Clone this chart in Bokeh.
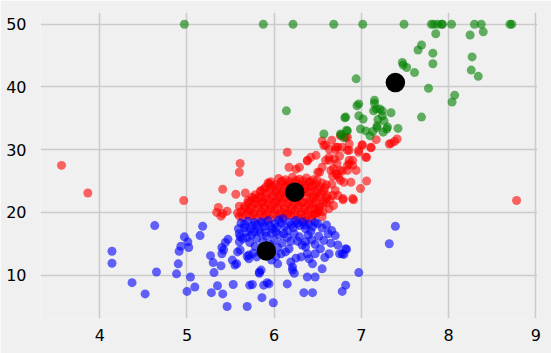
from bokeh.plotting import figure
from bokeh.models import ColumnDataSource, FixedTicker, Range1d
from bokeh.embed import file_html
from bokeh.resources import INLINE

# Cluster 1 (red): (RM, MEDV)
red_points = [
    (3.561, 27.5), (3.863, 23.1), (8.78, 21.9), (4.963, 21.9), (5.61, 27.8), (5.60, 26.4),
    (5.41, 23.7), (5.56, 22.9), (5.67, 23.1), (5.73, 21.8), (5.36, 20.8), (5.34, 20.0),
    (5.41, 19.8), (5.46, 20.2), (5.39, 19.4), (5.60, 19.4), (5.60, 21.0), (5.85, 23.5),
    (5.90, 24.0), (5.93, 24.7), (5.96, 24.9), (5.77, 22.2), (5.86, 22.4),
    (6.15, 29.6), (6.17, 27.2), (6.29, 27.2), (6.38, 28.2), (6.48, 29.1), (6.52, 26.4),
    (6.57, 30.7), (6.63, 28.3), (6.71, 30.4), (6.84, 29.9), (6.90, 28.3), (6.84, 26.7),
    (6.74, 25.6), (6.80, 24.8), (6.79, 22.0), (6.91, 22.0), (6.68, 21.1), (6.67, 22.7),
    (6.63, 20.6), (6.50, 20.0), (6.44, 19.5), (6.36, 18.7), (6.55, 19.3), (6.82, 32.0),
    (7.17, 31.6), (7.34, 31.0), (7.41, 31.7), (7.38, 31.3), (7.01, 30.8), (7.11, 30.3),
    (6.97, 29.6), (7.06, 28.8), (6.86, 29.9), (6.73, 30.4), (6.69, 28.5), (6.86, 28.3),
    (6.86, 27.7), (6.94, 26.7), (6.78, 26.6), (7.06, 25.0), (6.99, 23.8), (6.88, 24.8),
    (6.76, 25.1), (6.90, 22.2), (6.79, 22.2), (6.73, 22.7), (6.52, 20.3), (6.47, 19.8),
    (6.66, 31.5), (6.70, 30.0), (6.75, 29.0), (6.68, 27.0), (6.72, 26.0), (6.66, 24.5),
    (6.70, 23.5), (6.67, 25.8), (6.72, 27.8),
    (6.55, 31.4), (6.59, 30.7), (6.63, 30.1), (6.76, 32.2), (6.84, 32.0), (6.86, 30.9),
    (6.78, 30.4), (6.97, 29.9), (7.01, 30.7), (7.11, 30.4), (7.05, 28.8), (6.90, 27.5),
    (6.63, 28.8), (6.59, 28.3), (6.42, 28.8), (6.38, 28.3), (6.50, 26.4), (6.55, 27.2),
    (6.65, 26.7), (6.71, 26.2), (6.76, 26.7), (6.84, 27.5), (7.32, 30.9), (6.25, 26.9),
    # dense core
    (5.64, 19.2), (5.72, 19.4), (5.80, 19.1), (5.88, 19.3), (5.95, 19.0), (6.03, 19.4),
    (6.11, 19.2), (6.19, 19.5), (6.27, 19.1), (6.35, 19.3), (6.43, 19.0),
    (5.62, 20.1), (5.70, 20.3), (5.77, 19.9), (5.85, 20.2), (5.93, 20.0), (6.00, 20.4),
    (6.08, 20.1), (6.16, 19.9), (6.24, 20.3), (6.31, 20.0), (6.39, 20.2), (6.47, 20.5),
    (6.56, 20.1),
    (5.66, 21.0), (5.74, 20.8), (5.82, 21.2), (5.89, 20.9), (5.97, 21.1), (6.05, 21.4),
    (6.12, 20.8), (6.20, 21.0), (6.28, 21.2), (6.36, 20.9), (6.44, 21.3), (6.52, 21.0),
    (6.60, 21.5),
    (5.70, 21.9), (5.79, 22.1), (5.87, 21.7), (5.94, 22.0), (6.02, 21.8), (6.09, 22.2),
    (6.17, 21.9), (6.25, 22.1), (6.33, 21.7), (6.41, 22.0), (6.48, 22.3), (6.57, 21.8),
    (6.64, 22.0),
    (5.78, 22.8), (5.91, 23.0), (5.99, 22.7), (6.06, 22.9), (6.14, 23.1), (6.22, 22.6),
    (6.30, 22.9), (6.38, 23.2), (6.45, 22.8), (6.54, 23.0), (6.61, 22.7),
    (5.88, 23.7), (5.96, 23.9), (6.04, 23.6), (6.11, 23.8), (6.19, 24.0), (6.27, 23.5),
    (6.35, 23.8), (6.42, 24.1), (6.50, 23.7), (6.58, 23.9),
    (5.94, 24.6), (6.01, 24.4), (6.08, 24.8), (6.16, 24.5), (6.24, 24.7), (6.32, 24.4),
    (6.40, 24.8), (6.47, 24.5), (6.55, 24.7),
    (6.05, 25.4), (6.13, 25.2), (6.21, 25.6), (6.29, 25.3), (6.37, 25.5), (6.45, 25.2),
    # second layer of the core
    (5.68, 19.7), (5.76, 19.6), (5.84, 19.7), (5.91, 19.5), (5.99, 19.8), (6.07, 19.6),
    (6.15, 19.7), (6.23, 19.6), (6.31, 19.7), (6.39, 19.6), (6.47, 19.7), (5.58, 19.9),
    (5.66, 20.6), (5.73, 20.5), (5.81, 20.7), (5.89, 20.5), (5.96, 20.6), (6.04, 20.7),
    (6.12, 20.5), (6.20, 20.6), (6.27, 20.7), (6.35, 20.5), (6.43, 20.7), (6.51, 20.6),
    (5.70, 21.5), (5.78, 21.4), (5.86, 21.6), (5.93, 21.4), (6.01, 21.5), (6.09, 21.6),
    (6.16, 21.4), (6.24, 21.6), (6.32, 21.5), (6.40, 21.4), (6.48, 21.6), (6.56, 21.4),
    (5.75, 22.4), (5.83, 22.5), (5.90, 22.3), (5.98, 22.4), (6.06, 22.5), (6.13, 22.3),
    (6.21, 22.4), (6.29, 22.5), (6.37, 22.3), (6.45, 22.4), (6.52, 22.5), (6.60, 22.3),
    (5.84, 23.3), (5.95, 23.4), (6.02, 23.2), (6.10, 23.3), (6.18, 23.4), (6.34, 23.3),
    (6.41, 23.4), (6.49, 23.2), (6.57, 23.4),
    (5.98, 24.2), (6.05, 24.1), (6.13, 24.3), (6.21, 24.2), (6.29, 24.1), (6.36, 24.3),
    (6.44, 24.2), (6.52, 24.1), (6.60, 24.4),
    (6.09, 25.0), (6.17, 24.9), (6.25, 25.1), (6.33, 25.0), (6.41, 24.9), (6.49, 25.1),
]

# Cluster 2 (blue)
blue_points = [
    (4.14, 13.8), (4.14, 11.9), (4.37, 8.8), (4.52, 7.0), (4.63, 17.9), (4.65, 10.5),
    (4.88, 10.2), (4.90, 11.8), (4.91, 13.8), (4.93, 14.6), (4.97, 16.1), (5.01, 15.3),
    (5.02, 14.4), (5.04, 9.7), (5.00, 7.4), (5.09, 8.1), (5.15, 16.3), (5.18, 17.8),
    (5.27, 13.1), (5.30, 12.0), (5.31, 10.4), (5.35, 8.3), (5.28, 7.2), (5.41, 7.0),
    (5.46, 5.0), (5.39, 11.5), (5.40, 13.4), (5.42, 14.0), (5.40, 14.4), (5.44, 15.2),
    (5.47, 15.7), (5.52, 12.4), (5.55, 11.6), (5.57, 11.8), (5.53, 8.5), (5.58, 13.7),
    (5.61, 14.0), (5.60, 15.3), (5.61, 16.1), (5.59, 17.4), (5.69, 5.0), (5.75, 8.5),
    (5.72, 8.4), (5.69, 13.0), (5.71, 12.6), (5.71, 13.2), (5.83, 10.5), (5.85, 10.8),
    (5.83, 10.3), (5.86, 6.4), (5.88, 8.4), (5.94, 8.6), (5.92, 8.8), (5.99, 5.6),
    (6.04, 11.8), (6.15, 8.6), (6.21, 11.3), (6.21, 10.8), (6.23, 10.3), (6.38, 9.7),
    (6.47, 9.7), (6.55, 11.0), (6.34, 7.2), (6.44, 7.2), (6.78, 7.4), (6.82, 8.4),
    (6.97, 10.4), (7.32, 15.0), (7.39, 17.8), (6.25, 12.7), (6.40, 12.6), (6.44, 11.8),
    (5.62, 18.3), (5.66, 17.6), (5.70, 18.6), (5.75, 17.9), (5.78, 18.4), (5.82, 17.2),
    (5.85, 18.5), (5.89, 17.8), (5.93, 18.7), (5.98, 17.4), (6.01, 18.2), (6.05, 18.8),
    (6.10, 19.0), (6.12, 17.8), (6.15, 17.1), (6.18, 18.4), (6.22, 17.6), (6.25, 18.7),
    (6.29, 17.9), (6.33, 18.5), (6.36, 17.4), (6.40, 18.2), (6.44, 17.7), (6.50, 18.2),
    (6.55, 17.5), (6.60, 18.0), (6.66, 17.1), (6.70, 16.3), (6.62, 16.6),
    (5.60, 16.6), (5.64, 15.8), (5.68, 16.9), (5.72, 15.2), (5.74, 16.4), (5.78, 14.6),
    (5.80, 15.9), (5.84, 16.8), (5.87, 15.4), (5.91, 16.2), (5.95, 14.9), (5.97, 16.7),
    (6.00, 15.6), (6.04, 14.4), (6.06, 16.4), (6.09, 15.1), (6.13, 13.7), (6.17, 14.2),
    (6.15, 16.0), (6.19, 15.4), (6.23, 16.6), (6.29, 16.1), (6.32, 14.8), (6.36, 15.3),
    (6.36, 14.5), (6.39, 16.4), (6.43, 15.6), (6.47, 14.9), (6.51, 16.2), (6.53, 14.2),
    (6.57, 15.5), (6.63, 13.4), (6.65, 15.1), (6.73, 14.8), (6.78, 13.4), (6.82, 14.2),
    (6.75, 13.4), (6.80, 13.3), (6.83, 14.1), (6.47, 13.4), (6.38, 13.4), (6.08, 13.4),
    (5.76, 13.5), (5.80, 12.9), (5.97, 12.4), (6.02, 13.0), (6.19, 12.1), (6.31, 12.9),
    (6.58, 12.8),
    (5.66, 18.1), (5.73, 17.3), (5.80, 18.0), (5.87, 18.2), (5.95, 17.9), (6.03, 17.6),
    (6.08, 18.3), (6.20, 18.0), (6.27, 18.3), (6.35, 18.0), (6.47, 18.4), (5.69, 16.0),
    (5.77, 16.9), (5.90, 16.8), (6.02, 16.9), (6.11, 16.6), (6.27, 15.4), (6.42, 17.0),
]

# Cluster 3 (green)
green_points = [
    (4.97, 50.0), (5.875, 50.0), (6.216, 50.0), (6.683, 50.0), (7.016, 50.0), (7.489, 50.0),
    (7.802, 50.0), (7.831, 50.0), (7.875, 50.0), (7.923, 50.0), (7.929, 50.0), (8.034, 50.0),
    (8.297, 50.0), (8.375, 50.0), (8.704, 50.0), (8.725, 50.0),
    (7.853, 48.5), (8.247, 48.3), (8.398, 48.8), (7.69, 46.7), (7.65, 45.9), (7.82, 45.4),
    (7.82, 43.7), (8.27, 44.8), (8.26, 42.7), (8.34, 41.7), (7.47, 43.9), (7.48, 43.5),
    (7.52, 43.1), (7.61, 42.3), (7.77, 39.8), (8.07, 38.7), (8.04, 37.6), (7.69, 35.2),
    (6.94, 41.3), (6.14, 36.2), (6.81, 35.1), (7.15, 37.9), (7.15, 37.4), (6.97, 37.3),
    (6.95, 37.0), (7.14, 36.2), (7.21, 36.5), (7.24, 36.2), (7.34, 35.9), (6.97, 35.4),
    (7.02, 34.9), (7.19, 34.8), (7.24, 35.4), (7.26, 34.6), (6.99, 33.3), (6.83, 33.1),
    (7.13, 32.9), (7.29, 33.3), (7.42, 33.4), (7.25, 32.8), (7.10, 32.2), (6.57, 32.5),
    (6.77, 32.4), (6.80, 31.9), (7.05, 33.0), (7.18, 33.5), (7.30, 33.6), (7.18, 33.8),
    (6.76, 32.5), (6.84, 33.0), (6.82, 35.2), (7.17, 36.5),
]

centroid_rm = [5.91, 6.236, 7.39]
centroid_medv = [13.85, 23.23, 40.7]

x_ticks = [4, 5, 6, 7, 8, 9]
y_ticks = [10, 20, 30, 40, 50]

rm, medv, col = [], [], []
for pts, c in ((red_points, "red"), (blue_points, "blue"), (green_points, "green")):
    for a, b in pts:
        rm.append(a)
        medv.append(b)
        col.append(c)
src = ColumnDataSource(dict(rm=rm, medv=medv, col=col))

p = figure(width=551, height=353, x_range=Range1d(3.32, 9.02), y_range=Range1d(3.08, 51.88),
           output_backend="svg", toolbar_location=None,
           min_border_left=40, min_border_right=14, min_border_top=12, min_border_bottom=35,
           background_fill_color="#f0f0f0", border_fill_color="#f0f0f0")
p.outline_line_color = None

for ax in (p.xaxis[0], p.yaxis[0]):
    ax.axis_line_color = None
    ax.major_tick_line_color = None
    ax.minor_tick_line_color = None
    ax.major_label_text_font = "DejaVu Sans"
    ax.major_label_text_font_size = "16px"
    ax.major_label_text_color = "black"
p.xaxis[0].ticker = FixedTicker(ticks=x_ticks)
p.yaxis[0].ticker = FixedTicker(ticks=y_ticks)
p.xaxis[0].major_label_standoff = 4
p.yaxis[0].major_label_standoff = 8

for g in (p.xgrid[0], p.ygrid[0]):
    g.grid_line_color = "#cbcbcb"
    g.grid_line_width = 1.5

p.scatter("rm", "medv", source=src, size=9, fill_color="col", fill_alpha=0.6, line_color=None)
p.scatter(centroid_rm, centroid_medv, size=19.5, fill_color="black", line_color=None)

open("out.html", "w").write(file_html(p, INLINE))
